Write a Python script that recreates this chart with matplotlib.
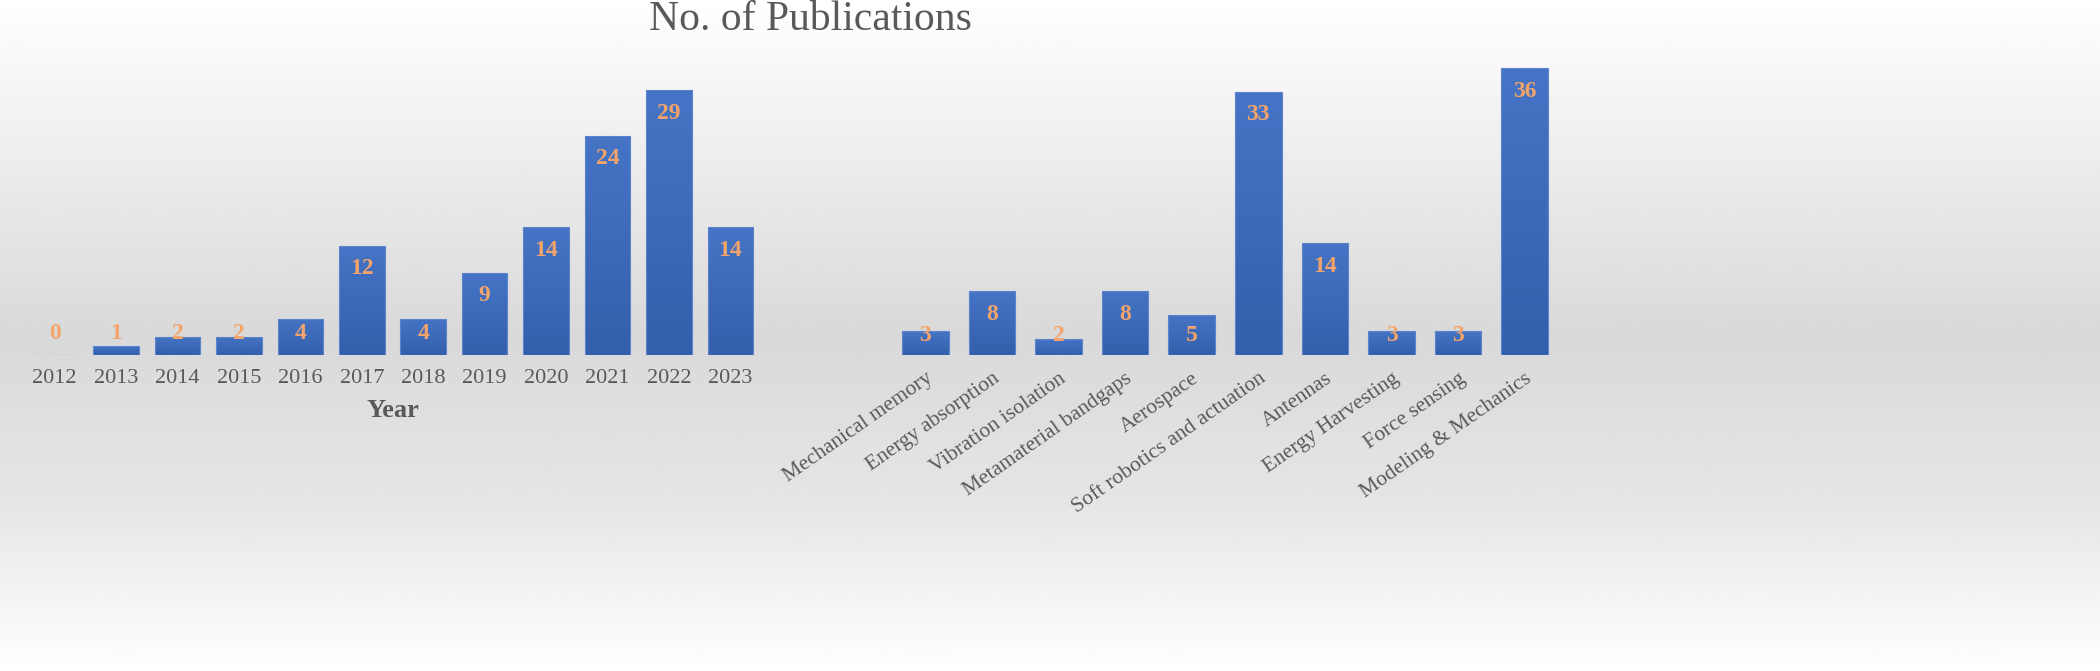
import numpy as np
import matplotlib.pyplot as plt
from matplotlib.colors import LinearSegmentedColormap

years = ["2012", "2013", "2014", "2015", "2016", "2017", "2018", "2019", "2020", "2021", "2022", "2023"]
year_counts = [0, 1, 2, 2, 4, 12, 4, 9, 14, 24, 29, 14]

topics = ["Mechanical memory", "Energy absorption", "Vibration isolation", "Metamaterial bandgaps",
          "Aerospace", "Soft robotics and actuation", "Antennas", "Energy Harvesting",
          "Force sensing", "Modeling & Mechanics"]
topic_counts = [3, 8, 2, 8, 5, 33, 14, 3, 3, 36]

plt.rcParams["font.family"] = ["Liberation Serif", "DejaVu Serif"]
gray = "#595959"
label_col = "#F4A46A"

fig = plt.figure(figsize=(21, 6.71), dpi=100)

# background gradient
bg = fig.add_axes([0, 0, 1, 1], zorder=-10)
t = np.linspace(0, 1, 300)
shade = np.interp(t, [0, 0.1, 0.5, 0.75, 1.0], [1.0, 0.97, 0.85, 0.9, 1.0])
bg.imshow(np.repeat(shade[:, None], 2, axis=1), cmap="gray", vmin=0, vmax=1,
          aspect="auto", extent=[0, 1, 0, 1])
bg.axis("off")

bar_cmap = LinearSegmentedColormap.from_list("bar", ["#3360AC", "#4674C6"])


def gradient_bars(ax, xs, vals, width):
    bars = ax.bar(xs, vals, width=width, color="none", edgecolor="#5B84CC", linewidth=0.8, zorder=3)
    grad = np.linspace(0, 1, 100)[:, None]
    for b in bars:
        h = b.get_height()
        if h <= 0:
            continue
        x0 = b.get_x()
        im = ax.imshow(grad, cmap=bar_cmap, aspect="auto", origin="lower",
                       extent=[x0, x0 + b.get_width(), 0, h], zorder=2)
        im.set_clip_path(b)
    return bars


# left panel: by year
ax1 = fig.add_axes([24 / 2100, 1 - 355 / 671, 737 / 2100, 292 / 671])
ax1.patch.set_alpha(0)
x1 = np.arange(len(years))
gradient_bars(ax1, x1, year_counts, 0.74)
ax1.set_xlim(-0.5, len(years) - 0.5)
ax1.set_ylim(0, 32)
for x, v in zip(x1, year_counts):
    ax1.text(x, max(v - 2.5, 2.4), str(v), ha="center", va="center", color=label_col,
             fontsize=17, fontweight="bold", zorder=5)
ax1.set_xticks(x1)
ax1.set_xticklabels(years, fontsize=16, color=gray)
ax1.set_yticks([])
ax1.tick_params(axis="x", length=0, pad=10)
ax1.set_xlabel("Year", fontsize=19, fontweight="bold", color=gray, labelpad=8)
for s in ax1.spines.values():
    s.set_visible(False)

# right panel: by topic
ax2 = fig.add_axes([892 / 2100, 1 - 355 / 671, 666 / 2100, 303 / 671])
ax2.patch.set_alpha(0)
x2 = np.arange(len(topics))
gradient_bars(ax2, x2, topic_counts, 0.7)
ax2.set_xlim(-0.5, len(topics) - 0.5)
ax2.set_ylim(0, 38)
for x, v in zip(x2, topic_counts):
    ax2.text(x, max(v - 2.9, 2.5), str(v), ha="center", va="center", color=label_col,
             fontsize=17, fontweight="bold", zorder=5)
ax2.set_xticks(x2)
ax2.set_xticklabels(topics, fontsize=15.5, color=gray, rotation=35, ha="right",
                    rotation_mode="anchor")
ax2.set_yticks([])
ax2.tick_params(axis="x", length=0, pad=10)
for s in ax2.spines.values():
    s.set_visible(False)

fig.text(810 / 2100, 1 - 20 / 671, "No. of Publications", ha="center", va="center",
         fontsize=30, color=gray)

fig.savefig("out.png", dpi=100)
plt.close(fig)
